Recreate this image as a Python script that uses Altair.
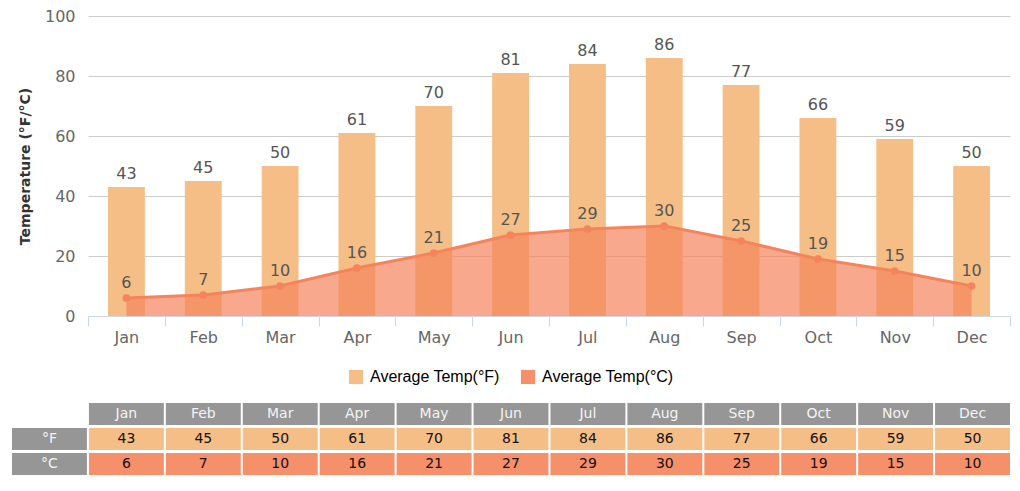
import altair as alt
import pandas as pd

# ---- data -------------------------------------------------------------
months = ["Jan", "Feb", "Mar", "Apr", "May", "Jun",
          "Jul", "Aug", "Sep", "Oct", "Nov", "Dec"]
temp_f = [43, 45, 50, 61, 70, 81, 84, 86, 77, 66, 59, 50]
temp_c = [6, 7, 10, 16, 21, 27, 29, 30, 25, 19, 15, 10]
series_names = ["Average Temp(°F)", "Average Temp(°C)"]
row_labels = ["°F", "°C"]
y_ticks = [0, 20, 40, 60, 80, 100]

# ---- styles -----------------------------------------------------------
C_F = "#f5be86"
C_C = "#f5845c"
C_C_TABLE = "#f5906b"
GRAY = "#969696"
FONT = "DejaVu Sans"
W, H = 922, 300

df = pd.DataFrame({"month": months, "f": temp_f, "c": temp_c})

x_enc = alt.X(
    "month:N", sort=months,
    scale=alt.Scale(domain=months, paddingInner=0, paddingOuter=0),
    axis=alt.Axis(title=None, tickBand="extent", domainColor="#ccd6eb",
                  tickColor="#ccd6eb", tickSize=10, labelAngle=0,
                  labelFontSize=16, labelColor="#666666", labelFont=FONT,
                  labelPadding=3, grid=False),
)
y_scale = alt.Scale(domain=[0, 100])
y_axis = alt.Axis(title="Temperature (°F/°C)", values=y_ticks, domain=False,
                  ticks=False, labelFontSize=16, labelColor="#666666",
                  labelFont=FONT, labelPadding=13, gridColor="#cccccc",
                  titleFont=FONT, titleFontSize=14, titleFontWeight="bold",
                  titleColor="#333333", titlePadding=12)

legend = alt.Legend(title=None, orient="none", direction="horizontal",
                    legendX=260, legendY=H + 53, symbolType="square",
                    symbolSize=200, symbolOpacity=1, symbolStrokeWidth=0,
                    labelFont="Liberation Sans", labelFontSize=16,
                    labelColor="#000000", columnPadding=20, labelOffset=6,
                    labelLimit=300)

base = alt.Chart(df)

bars = base.transform_calculate(series=f"'{series_names[0]}'").mark_bar(
    width=alt.RelativeBandSize(0.48)
).encode(
    x=x_enc,
    y=alt.Y("f:Q", scale=y_scale, axis=y_axis),
    color=alt.Color("series:N",
                    scale=alt.Scale(domain=series_names, range=[C_F, C_C_TABLE]),
                    legend=legend),
)

area = base.mark_area(color=C_C, opacity=0.7).encode(
    x=x_enc, y=alt.Y("c:Q", scale=y_scale, axis=y_axis))
line = base.mark_line(color=C_C, strokeWidth=3).encode(
    x=x_enc, y=alt.Y("c:Q", scale=y_scale, axis=y_axis))
pts = base.mark_point(filled=True, size=60, color=C_C, opacity=1).encode(
    x=x_enc, y=alt.Y("c:Q", scale=y_scale, axis=y_axis))

bar_lbl = base.mark_text(baseline="bottom", dy=-5, fontSize=16, font=FONT,
                         color="#555555").encode(
    x=x_enc, y=alt.Y("f:Q", scale=y_scale, axis=y_axis), text="f:Q")
c_lbl = base.mark_text(baseline="bottom", dy=-7, fontSize=16, font=FONT,
                       color="#555555").encode(
    x=x_enc, y=alt.Y("c:Q", scale=y_scale, axis=y_axis), text="c:Q")

top = alt.layer(bars, area, line, pts, bar_lbl, c_lbl).properties(
    width=W, height=H)

# ---- table ------------------------------------------------------------
rows = []
for m in months:
    rows.append({"col": m, "row": "hdr", "kind": "head", "label": m})
for rl, vals, kind in [(row_labels[0], temp_f, "f"), (row_labels[1], temp_c, "c")]:
    rows.append({"col": "rowhead", "row": rl, "kind": "head", "label": rl})
    for m, v in zip(months, vals):
        rows.append({"col": m, "row": rl, "kind": kind, "label": str(v)})
tdf = pd.DataFrame(rows)

tx = alt.X("col:N", axis=None,
           scale=alt.Scale(domain=["rowhead"] + months, range=[-76, W],
                           paddingInner=0.026, paddingOuter=0))
ty = alt.Y("row:N", axis=None,
           scale=alt.Scale(domain=["hdr"] + row_labels, range=[0, 72],
                           paddingInner=0.12, paddingOuter=0))

cells = alt.Chart(tdf).mark_rect().encode(
    x=tx, y=ty,
    color=alt.Color("kind:N", legend=None,
                    scale=alt.Scale(domain=["head", "f", "c"],
                                    range=[GRAY, C_F, C_C_TABLE])))
texts = alt.Chart(tdf).mark_text(font=FONT, fontSize=14).encode(
    x=tx, y=ty, text="label:N",
    color=alt.Color("kind:N", legend=None,
                    scale=alt.Scale(domain=["head", "f", "c"],
                                    range=["#f4f4f4", "#111111", "#111111"])))
table = alt.layer(cells, texts).resolve_scale(color="independent").properties(
    width=W, height=72)

chart = alt.vconcat(top, table, spacing=18).resolve_scale(
    x="independent", y="independent", color="independent"
).properties(
    padding={"top": 0, "left": 4, "right": 0, "bottom": 0}
).configure_view(stroke=None)

chart.save("out.html", embed_options={"renderer": "svg", "actions": False})
